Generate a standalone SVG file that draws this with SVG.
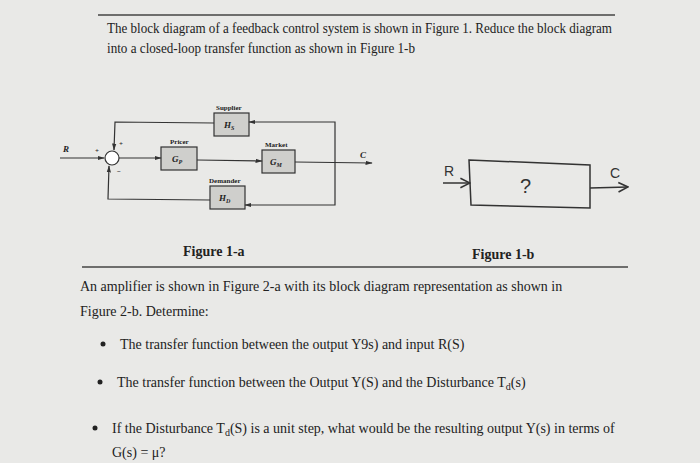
<svg xmlns="http://www.w3.org/2000/svg" width="700" height="463" viewBox="0 0 700 463">
<style>
.t{font-family:"Liberation Serif",serif;font-size:14px;fill:#222}
.s{font-family:"Liberation Serif",serif;font-size:7px;font-weight:bold;fill:#222}
.g{font-family:"Liberation Serif",serif;font-size:9px;font-weight:bold;font-style:italic;fill:#222}
.b{fill:#cfcfcc;stroke:#333;stroke-width:1.2}
.l{stroke:#333;stroke-width:1.2;fill:none}
.h{stroke:#333;stroke-width:1.5;fill:none}
</style>
<defs>
<marker id="a" viewBox="0 0 10 10" refX="9" refY="5" markerWidth="6" markerHeight="6" orient="auto"><path d="M0,2 L10,5 L0,8 z" fill="#333"/></marker>
<marker id="o" viewBox="0 0 10 10" refX="9" refY="5" markerWidth="8" markerHeight="8" orient="auto"><path d="M1,1 L9,5 L1,9" fill="none" stroke="#333" stroke-width="1.3"/></marker>
</defs>
<rect width="700" height="463" fill="#e9e9e7"/>
<line x1="98" y1="15" x2="615" y2="15" stroke="#444" stroke-width="1.5"/>
<text class="t" x="107" y="33" font-size="13" textLength="505" lengthAdjust="spacingAndGlyphs">The block diagram of a feedback control system is shown in Figure 1.  Reduce the block diagram</text>
<text class="t" x="107" y="53" font-size="13" textLength="308" lengthAdjust="spacingAndGlyphs">into a closed-loop transfer function as shown in Figure 1-b</text>
<g id="sum"><circle cx="112" cy="158" r="7" fill="#fff" stroke="#333" stroke-width="1.2"/>
<text class="s" x="119" y="146" font-size="9">+</text><text class="s" x="95" y="153" font-size="9">+</text><text class="s" x="117" y="174" font-size="9">−</text></g>
<g id="hs"><rect class="b" x="214" y="113" width="35" height="23"/><text class="s" x="216" y="110">Supplier</text><text class="g" x="224" y="128">H<tspan font-size="6" dy="2">S</tspan></text></g>
<g id="gp"><rect class="b" x="161" y="147" width="36" height="23"/><text class="s" x="170" y="144">Pricer</text><text class="g" x="172" y="162">G<tspan font-size="6" dy="2">P</tspan></text></g>
<g id="gm"><rect class="b" x="262" y="150" width="33" height="23"/><text class="s" x="265" y="147">Market</text><text class="g" x="270" y="165">G<tspan font-size="6" dy="2">M</tspan></text></g>
<g id="hd"><rect class="b" x="210" y="186" width="35" height="23"/><text class="s" x="209" y="183">Demander</text><text class="g" x="219" y="201">H<tspan font-size="6" dy="2">D</tspan></text></g>
<text class="g" x="63" y="152">R</text><text class="g" x="360" y="158">C</text>
<g id="connectors">
<line class="l" x1="60" y1="158" x2="104" y2="158" marker-end="url(#a)"/>
<line class="l" x1="119" y1="158" x2="161" y2="158" marker-end="url(#a)"/>
<line class="l" x1="197" y1="160" x2="262" y2="161" marker-end="url(#a)"/>
<line class="l" x1="295" y1="162" x2="372" y2="163" marker-end="url(#a)"/>
<polyline class="l" points="335,162 335,122 249,122" marker-end="url(#a)"/>
<polyline class="l" points="214,123 115,122 114,150" marker-end="url(#a)"/>
<polyline class="l" points="335,162 335,205 245,205" marker-end="url(#a)"/>
<polyline class="l" points="210,200 108,199 109,166" marker-end="url(#a)"/>
<line class="h" x1="443" y1="183" x2="470" y2="183" marker-end="url(#o)"/>
<line class="h" x1="590" y1="188" x2="628" y2="187" marker-end="url(#o)"/>
</g>
<g id="box"><path class="h" d="M469,160 L590,165 L590,208 L471,205 Z"/>
<text x="520" y="193" font-family="Liberation Sans,sans-serif" font-size="20" fill="#333">?</text>
<text x="444" y="176" font-family="Liberation Sans,sans-serif" font-size="14" fill="#333">R</text>
<text x="610" y="178" font-family="Liberation Sans,sans-serif" font-size="14" fill="#333">C</text></g>
<text class="t" x="183" y="256" font-weight="bold">Figure 1-a</text>
<text class="t" x="472" y="259" font-weight="bold" font-size="13">Figure 1-b</text>
<line x1="82" y1="267" x2="628" y2="267" stroke="#444" stroke-width="1.5"/>
<text class="t" x="80" y="291">An amplifier is shown in Figure 2-a with its block diagram representation as shown in</text>
<text class="t" x="80" y="316">Figure 2-b.  Determine:</text>
<circle cx="103" cy="344" r="2.5" fill="#222"/>
<text class="t" x="120" y="349">The transfer function between the output Y9s) and input R(S)</text>
<circle cx="100" cy="382" r="2.5" fill="#222"/>
<text class="t" x="117" y="387">The transfer function between the Output Y(S) and the Disturbance T<tspan font-size="10" dy="3">d</tspan><tspan dy="-3">(s)</tspan></text>
<circle cx="95" cy="428" r="2.5" fill="#222"/>
<text class="t" x="112" y="433">If the Disturbance T<tspan font-size="10" dy="3">d</tspan><tspan dy="-3">(S) is a unit step, what would be the resulting output Y(s) in terms of</tspan></text>
<text class="t" x="112" y="457">G(s) = μ?</text>
</svg>
